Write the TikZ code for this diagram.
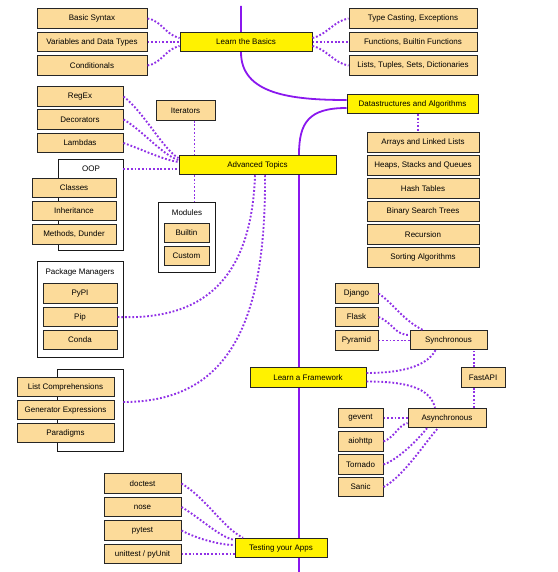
\documentclass[tikz,border=0pt]{standalone}
\usepackage{fontspec}
\setmainfont{Liberation Sans}
\usetikzlibrary{backgrounds}
\definecolor{itemfill}{HTML}{FCDB9A}
\definecolor{spinecol}{HTML}{8A17EE}
\definecolor{dotcol}{HTML}{9030E6}

\begin{document}
\begin{tikzpicture}[x=1pt, y=-1pt,
  item/.style={draw=black!85, line width=1pt, fill=itemfill, minimum height=19.5pt,
    inner sep=0pt, font=\fontsize{8}{9}\selectfont},
  topic/.style={item, fill=yellow},
  group/.style={draw=black!90, line width=0.8pt, fill=white, inner sep=0pt},
  grouptitle/.style={inner sep=0pt, font=\fontsize{8}{9}\selectfont},
  link/.style={draw=dotcol, line width=1.9pt, dash pattern=on 1.8pt off 1.9pt},
  spineline/.style={draw=spinecol, line width=1.8pt}]
\useasboundingbox (0,0) rectangle (557,572);

% Learn the Basics
\node[topic, minimum width=132pt] (basics) at (246,42) {Learn the Basics};
\node[item, minimum width=110pt] (syntax) at (92,18.5) {Basic Syntax};
\node[item, minimum width=110pt] (vars) at (92,42) {Variables and Data Types};
\node[item, minimum width=110pt] (cond) at (92,65.5) {Conditionals};
\node[item, minimum width=128pt] (casting) at (413,18.5) {Type Casting, Exceptions};
\node[item, minimum width=128pt] (funcs) at (413,42) {Functions, Builtin Functions};
\node[item, minimum width=128pt] (lists) at (413,65.5) {Lists, Tuples, Sets, Dictionaries};

% Datastructures and Algorithms
\node[topic, minimum width=131pt] (dsa) at (412.5,104) {Datastructures and Algorithms};
\node[item, minimum width=112pt] (arrays) at (423,142.5) {Arrays and Linked Lists};
\node[item, minimum width=112pt] (heaps) at (423,165.5) {Heaps, Stacks and Queues};
\node[item, minimum width=112pt] (hash) at (423,188.5) {Hash Tables};
\node[item, minimum width=112pt] (bst) at (423,211.5) {Binary Search Trees};
\node[item, minimum width=112pt] (recursion) at (423,234.5) {Recursion};
\node[item, minimum width=112pt] (sorting) at (423,257.5) {Sorting Algorithms};

% Advanced Topics
\node[topic, minimum width=157pt] (adv) at (257.5,165) {Advanced Topics};
\node[item, minimum width=86pt] (regex) at (80,96.5) {RegEx};
\node[item, minimum width=86pt] (decorators) at (80,119.5) {Decorators};
\node[item, minimum width=86pt] (lambdas) at (80,143) {Lambdas};
\node[item, minimum width=59pt] (iter) at (185.5,110.5) {Iterators};

% OOP
\node[group, minimum width=65pt, minimum height=91pt] (oop) at (90.5,204.5) {};
\node[grouptitle] (oop title) at (91,169) {OOP};
\node[item, minimum width=84pt] (classes) at (74,188) {Classes};
\node[item, minimum width=84pt] (inherit) at (74,211) {Inheritance};
\node[item, minimum width=84pt] (dunder) at (74,234.5) {Methods, Dunder};

% Modules
\node[group, minimum width=57pt, minimum height=70pt] (modules) at (186.5,237) {};
\node[grouptitle] (modules title) at (187,213) {Modules};
\node[item, minimum width=45pt] (builtin) at (186.5,233) {Builtin};
\node[item, minimum width=45pt] (custom) at (186.5,256) {Custom};

% Package Managers
\node[group, minimum width=86pt, minimum height=96pt] (pkg) at (80,309) {};
\node[grouptitle] (pkg title) at (80,272) {Package Managers};
\node[item, minimum width=74pt] (pypi) at (80,293.5) {PyPI};
\node[item, minimum width=74pt] (pip) at (80,317) {Pip};
\node[item, minimum width=74pt] (conda) at (80,340) {Conda};

% Comprehensions and Paradigms
\node[group, minimum width=66pt, minimum height=82pt] (para) at (90,410) {};
\node[item, minimum width=97pt] (listcomp) at (65.5,387) {List Comprehensions};
\node[item, minimum width=97pt] (genexp) at (65.5,410) {Generator Expressions};
\node[item, minimum width=97pt] (paradigms) at (65.5,433) {Paradigms};

% Learn a Framework
\node[topic, minimum width=116pt] (framework) at (308,377.5) {Learn a Framework};
\node[item, minimum width=43pt] (django) at (356.5,293.5) {Django};
\node[item, minimum width=43pt] (flask) at (356.5,317) {Flask};
\node[item, minimum width=43pt] (pyramid) at (356.5,340.5) {Pyramid};
\node[item, minimum width=77pt] (sync) at (448.5,340) {Synchronous};
\node[item, minimum width=44pt] (fastapi) at (483,377.5) {FastAPI};
\node[item, minimum width=78pt] (async) at (447,418) {Asynchronous};
\node[item, minimum width=45pt] (gevent) at (360.5,418) {gevent};
\node[item, minimum width=45pt] (aiohttp) at (360.5,441.5) {aiohttp};
\node[item, minimum width=45pt] (tornado) at (360.5,464.5) {Tornado};
\node[item, minimum width=45pt] (sanic) at (360.5,487) {Sanic};

% Testing your Apps
\node[topic, minimum width=92pt] (testing) at (281,548) {Testing your Apps};
\node[item, minimum width=77pt] (doctest) at (142.5,483.5) {doctest};
\node[item, minimum width=77pt] (nose) at (142.5,507) {nose};
\node[item, minimum width=77pt] (pytest) at (142.5,530.5) {pytest};
\node[item, minimum width=77pt] (unittest) at (142.5,554) {unittest / pyUnit};

% Main line
\coordinate (spine top) at (241,6);
\coordinate (spine end) at (299,572);
\begin{scope}[on background layer]
\draw[spineline] (spine top) -- (spine top |- basics.south)
  .. controls +(0,42) and +(-55,0) .. ([yshift=4pt]dsa.west);
\draw[spineline] ([yshift=-4pt]dsa.west) .. controls +(-38,0) and +(0,-32) .. (spine end |- adv.north)
  -- (spine end);
\end{scope}

% Links: basics
\draw[link] (syntax.east) .. controls +(14,2) and +(-14,-3) .. ([yshift=4pt]basics.west);
\draw[link] (vars.east) -- (basics.west);
\draw[link] (cond.east) .. controls +(14,-2) and +(-14,3) .. ([yshift=-4pt]basics.west);
\draw[link] ([yshift=4pt]basics.east) .. controls +(14,-3) and +(-14,2) .. (casting.west);
\draw[link] (basics.east) -- (funcs.west);
\draw[link] ([yshift=-4pt]basics.east) .. controls +(14,3) and +(-14,-2) .. (lists.west);

% Links: datastructures
\draw[link] ([xshift=-5pt]arrays.north |- dsa.south) -- ([xshift=-5pt]arrays.north);

% Links: advanced topics
\draw[link] (regex.east) .. controls +(20,15) and +(-15,-8) .. ([yshift=7pt]adv.west);
\draw[link] (decorators.east) .. controls +(18,10) and +(-15,-4) .. ([yshift=5pt]adv.west);
\draw[link] (lambdas.east) .. controls +(15,5) and +(-15,-2) .. ([yshift=3pt]adv.west);
\draw[link] (oop title -| oop.east) -- (oop title -| adv.west);
\draw[link] ([xshift=9pt]iter.south) -- ([xshift=9pt]iter.south |- adv.north);
\draw[link] ([xshift=8pt]modules.north |- adv.south) -- ([xshift=8pt]modules.north);
\draw[link] ([xshift=-2.5pt]adv.south) .. controls +(-4,115) and +(75,3) .. (pip.east);
\draw[link] ([xshift=7.5pt]adv.south) .. controls +(1,145) and +(107,0) .. ([yshift=8pt]para.east);

% Links: framework
\draw[link] (django.east) .. controls +(15,10) and +(-20,-10) .. ([xshift=-26pt]sync.north);
\draw[link] (flask.east) .. controls +(15,6) and +(-15,0) .. ([yshift=5pt]sync.west);
\draw[link] (pyramid.east) -- (pyramid.east -| sync.west);
\draw[link] ([xshift=-13pt]sync.south) .. controls +(-10,18) and +(30,0) .. ([yshift=4.5pt]framework.east);
\draw[link] ([yshift=-4pt]framework.east) .. controls +(40,0) and +(-5,-20) .. ([xshift=-12pt]async.north);
\draw[link] ([xshift=-9pt]fastapi.north) -- ([xshift=-9pt]fastapi.north |- sync.south);
\draw[link] ([xshift=-9pt]fastapi.south) -- ([xshift=-9pt]fastapi.south |- async.north);
\draw[link] (gevent.east) -- (gevent.east -| async.west);
\draw[link] (aiohttp.east) .. controls +(12,-5) and +(-10,3) .. ([yshift=-5pt]async.west);
\draw[link] (tornado.east) .. controls +(15,-5) and +(-8,10) .. ([xshift=-20pt]async.south);
\draw[link] (sanic.east) .. controls +(20,-10) and +(-10,10) .. ([xshift=-9pt]async.south);

% Links: testing
\draw[link] (doctest.east) .. controls +(25,15) and +(-20,-10) .. ([xshift=-38pt]testing.north);
\draw[link] (nose.east) .. controls +(20,12) and +(-15,-3) .. ([yshift=8pt]testing.west);
\draw[link] (pytest.east) .. controls +(15,8) and +(-15,0) .. ([yshift=3pt]testing.west);
\draw[link] (unittest.east) -- (unittest.east -| testing.west);

\end{tikzpicture}
\end{document}
